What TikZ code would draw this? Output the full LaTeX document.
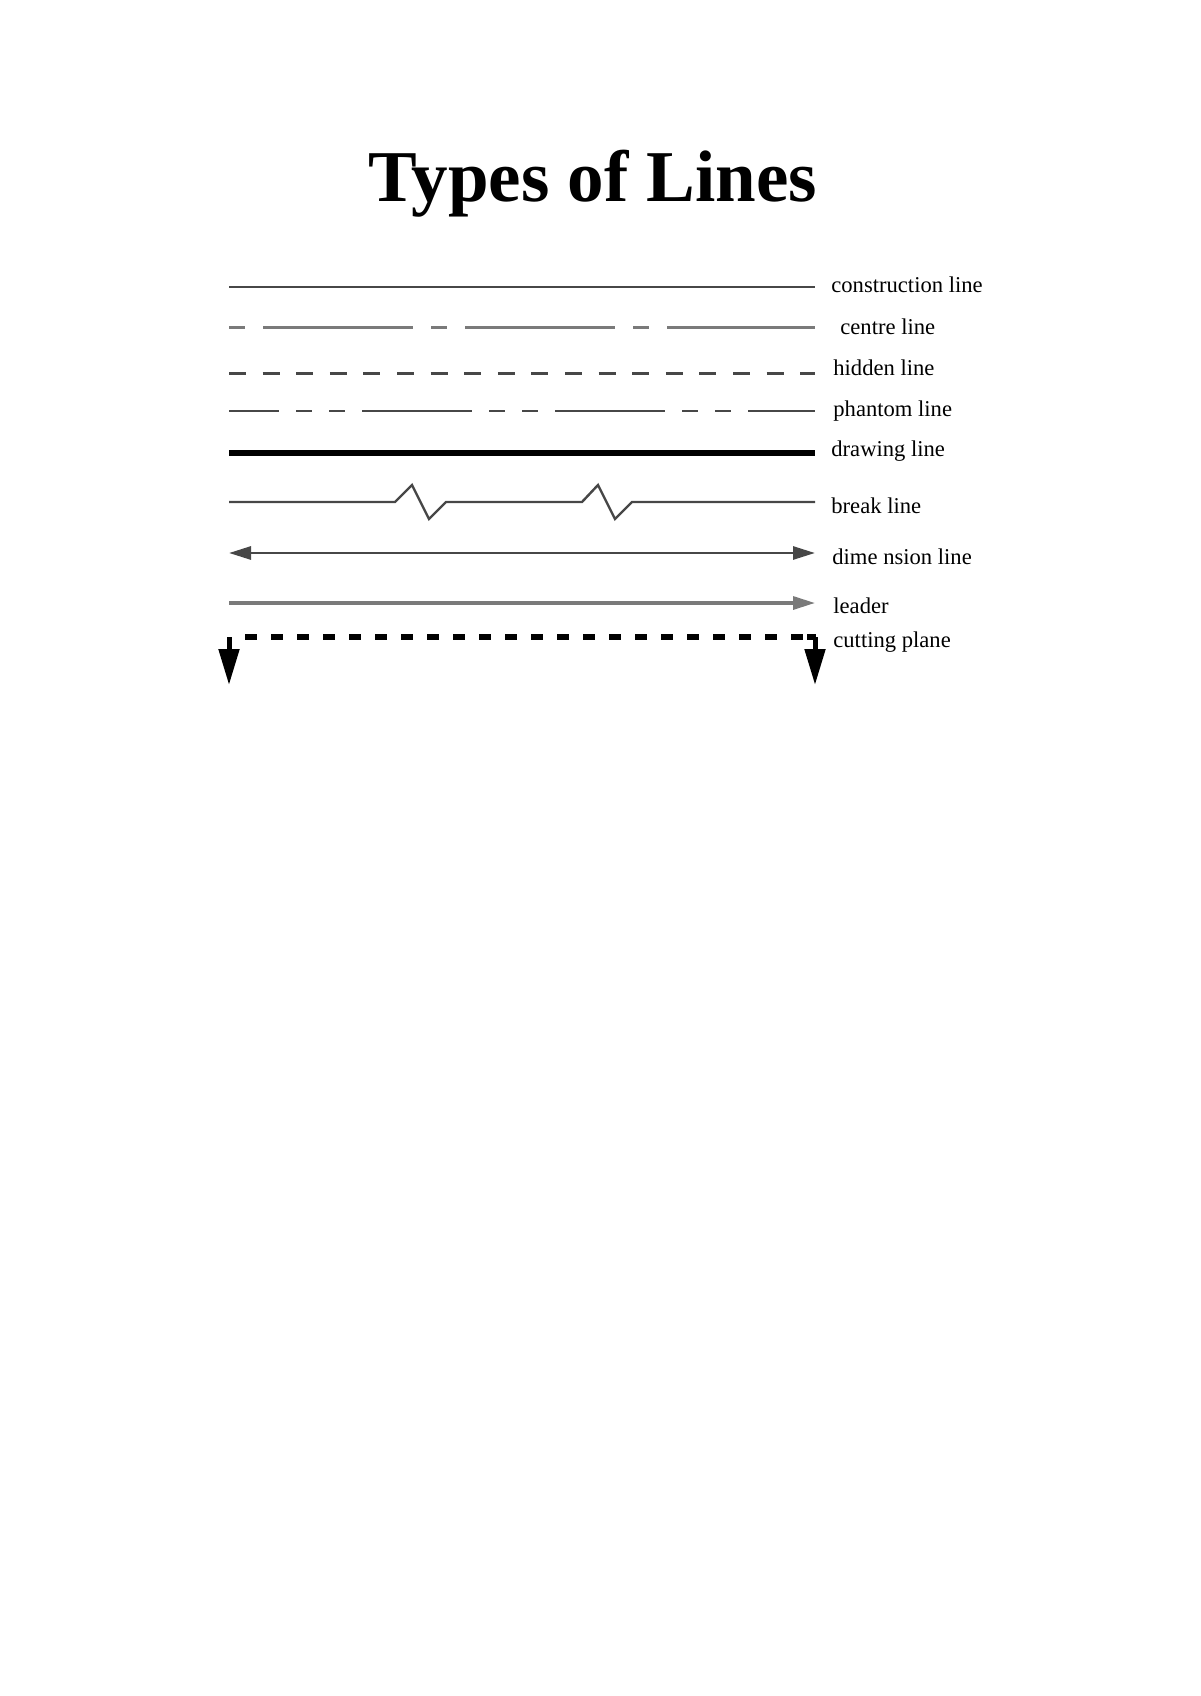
\documentclass[tikz,border=0pt]{standalone}
\usepackage{fontspec}
\setmainfont{Liberation Serif}
\usetikzlibrary{arrows.meta}
\definecolor{cgrey}{rgb}{0.28,0.28,0.28}
\definecolor{lgrey}{rgb}{0.48,0.48,0.48}

\begin{document}
\begin{tikzpicture}[x=0.5pt,y=-0.5pt,>={Triangle[length=11pt,width=6.5pt]},
  label node/.style={anchor=west,inner sep=0pt,font=\fontsize{11.3}{13}\selectfont},
  title node/.style={anchor=base,inner sep=0pt,font=\fontsize{36.5}{40}\selectfont\bfseries},
  centre line/.style={lgrey,line width=1.5pt,dash pattern=on 8pt off 9pt on 75pt off 9pt},
  hidden line/.style={cgrey,line width=1.5pt,dash pattern=on 8.5pt off 8.3pt},
  phantom line/.style={cgrey,line width=1.4pt,dash pattern=on 55pt off 8.5pt on 8pt off 8.5pt on 8pt off 8.5pt,dash phase=30pt},
  cut line/.style={black,line width=3pt,dash pattern=on 6pt off 7pt},
  cut arrow/.style={black,line width=2.5pt,-{Triangle[length=18pt,width=10pt]}}]
  \useasboundingbox (0,0) rectangle (1200,1696);
  \node[title node] (title) at (593,202) {Types of Lines};

  \foreach \n/\y in {1/287,2/327,3/373,4/411,5/453,6/502,7/553,8/603,9/637}{
    \coordinate (l\n) at (229,\y);
    \coordinate (r\n) at (815,\y);
  }

  \node[label node] (t1) at (831,285) {construction line};
  \node[label node] (t2) at (840,327) {centre line};
  \node[label node] (t3) at (833,368) {hidden line};
  \node[label node] (t4) at (833,411) {phantom line};
  \node[label node] (t5) at (831,451) {drawing line};
  \node[label node] (t6) at (831,506) {break line};
  \node[label node] (t7) at (832,557) {dime nsion line};
  \node[label node] (t8) at (833,606) {leader};
  \node[label node] (t9) at (833,642) {cutting plane};

  \draw[cgrey,line width=1.1pt] (l1) -- (r1);
  \draw[centre line] (l2) -- (r2);
  \draw[hidden line] (l3) -- (r3);
  \draw[phantom line] (l4) -- (r4);
  \draw[black,line width=2.6pt] (l5) -- (r5);
  \draw[cgrey,line width=1.2pt] (l6) -- ++(166,0) -- ++(17,-17) -- ++(17,34) -- ++(17,-17)
    -- ++(136,0) -- ++(16,-17) -- ++(17,34) -- ++(17,-17) -- (r6);
  \draw[cgrey,line width=1.4pt,<->] (l7) -- (r7);
  \draw[lgrey,line width=1.6pt,->] (l8) -- (r8);
  \draw[cut line] ([xshift=8pt]l9) -- ([xshift=-4pt]r9);
  \draw[black,line width=3pt] ([xshift=-4pt]r9) -- ([xshift=0.7pt]r9);
  \draw[cut arrow] (l9) -- ++(0,48);
  \draw[cut arrow] (r9) -- ++(0,48);
\end{tikzpicture}
\end{document}
